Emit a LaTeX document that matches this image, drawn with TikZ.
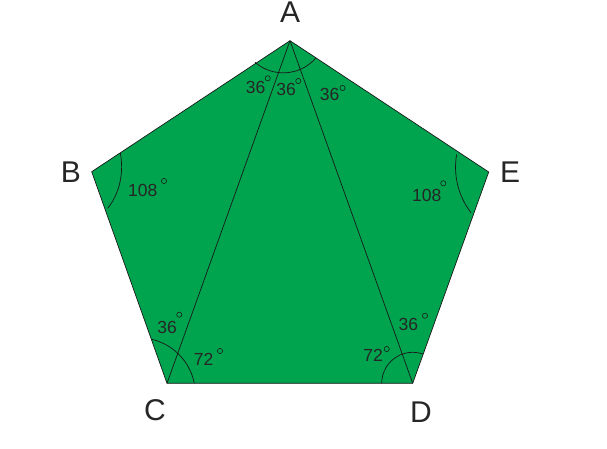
\documentclass[tikz,border=0pt]{standalone}
\usepackage{fontspec}
\setmainfont{Liberation Sans}
\definecolor{pentgreen}{RGB}{0,163,78}
\definecolor{edgecol}{RGB}{25,25,25}
\begin{document}
\begin{tikzpicture}[x=1pt,y=-1pt,
  edgeline/.style={draw=edgecol,line width=0.7pt,line join=miter},
  vlabel/.style={inner sep=0pt,text=black!85,font=\fontsize{30}{34}\selectfont},
  alabel/.style={inner sep=0pt,text=black!85,font=\fontsize{17.5}{20}\selectfont},
  degmark/.style={draw=edgecol,line width=0.55pt},
  anglearc/.style={draw=edgecol,line width=0.7pt}]
\useasboundingbox (0,0) rectangle (607,448);
% vertices
\coordinate (A) at (290,40.7);
\coordinate (B) at (91.7,171.7);
\coordinate (C) at (167,383.3);
\coordinate (D) at (412.7,383.3);
\coordinate (E) at (488.7,172);
% pentagon
\fill[pentgreen] (A)--(B)--(C)--(D)--(E)--cycle;
\draw[edgeline] (A)--(B)--(C)--(D)--(E)--cycle;
\draw[edgeline] (A)--(C);
\draw[edgeline] (A)--(D);
% angle arcs
\coordinate (arcA) at (255,62.3);
\draw[anglearc] (arcA) arc[start angle=130.8,end angle=41.6,radius=43.3];
\coordinate (arcB1) at (120.3,153);
\coordinate (arcB2) at (107.7,208.3);
\draw[anglearc] (arcB1) .. controls (124,172) and (120,193) .. (arcB2);
\coordinate (arcE1) at (456.7,154.3);
\coordinate (arcE2) at (471,212.7);
\draw[anglearc] (arcE1) .. controls (453,174) and (458,196) .. (arcE2);
\coordinate (arcC) at (151.7,339.3);
\draw[anglearc] (arcC) arc[start angle=-76.9,end angle=-11.4,radius=56.5];
\coordinate (arcD) at (381.7,383.3);
\draw[anglearc] (arcD) arc[start angle=180,end angle=289,radius=31];
% vertex labels
\node[vlabel] (lA) at (290,12) {A};
\node[vlabel] (lB) at (71,172) {B};
\node[vlabel] (lC) at (155,410) {C};
\node[vlabel] (lD) at (421,412.5) {D};
\node[vlabel] (lE) at (510,172.5) {E};
% angle labels
\node[alabel] (a1) at (255.5,87.5) {36};
\draw[degmark] (267.7,78.3) circle (2.6);
\node[alabel] (a2) at (286,89.5) {36};
\draw[degmark] (298.3,81) circle (2.6);
\node[alabel] (a3) at (329.5,94.5) {36};
\draw[degmark] (342.5,88) circle (2.6);
\node[alabel] (b1) at (142.8,190.3) {108};
\draw[degmark] (164,181) circle (2.6);
\node[alabel] (e1) at (426.7,195) {108};
\draw[degmark] (443.3,183.3) circle (2.6);
\node[alabel] (c1) at (167,327.3) {36};
\draw[degmark] (179.3,314.7) circle (2.6);
\node[alabel] (c2) at (203.7,359) {72};
\draw[degmark] (220,351) circle (2.6);
\node[alabel] (d1) at (408.3,324.7) {36};
\draw[degmark] (425,315.7) circle (2.6);
\node[alabel] (d2) at (373,355) {72};
\draw[degmark] (386.7,349) circle (2.6);
\end{tikzpicture}
\end{document}
